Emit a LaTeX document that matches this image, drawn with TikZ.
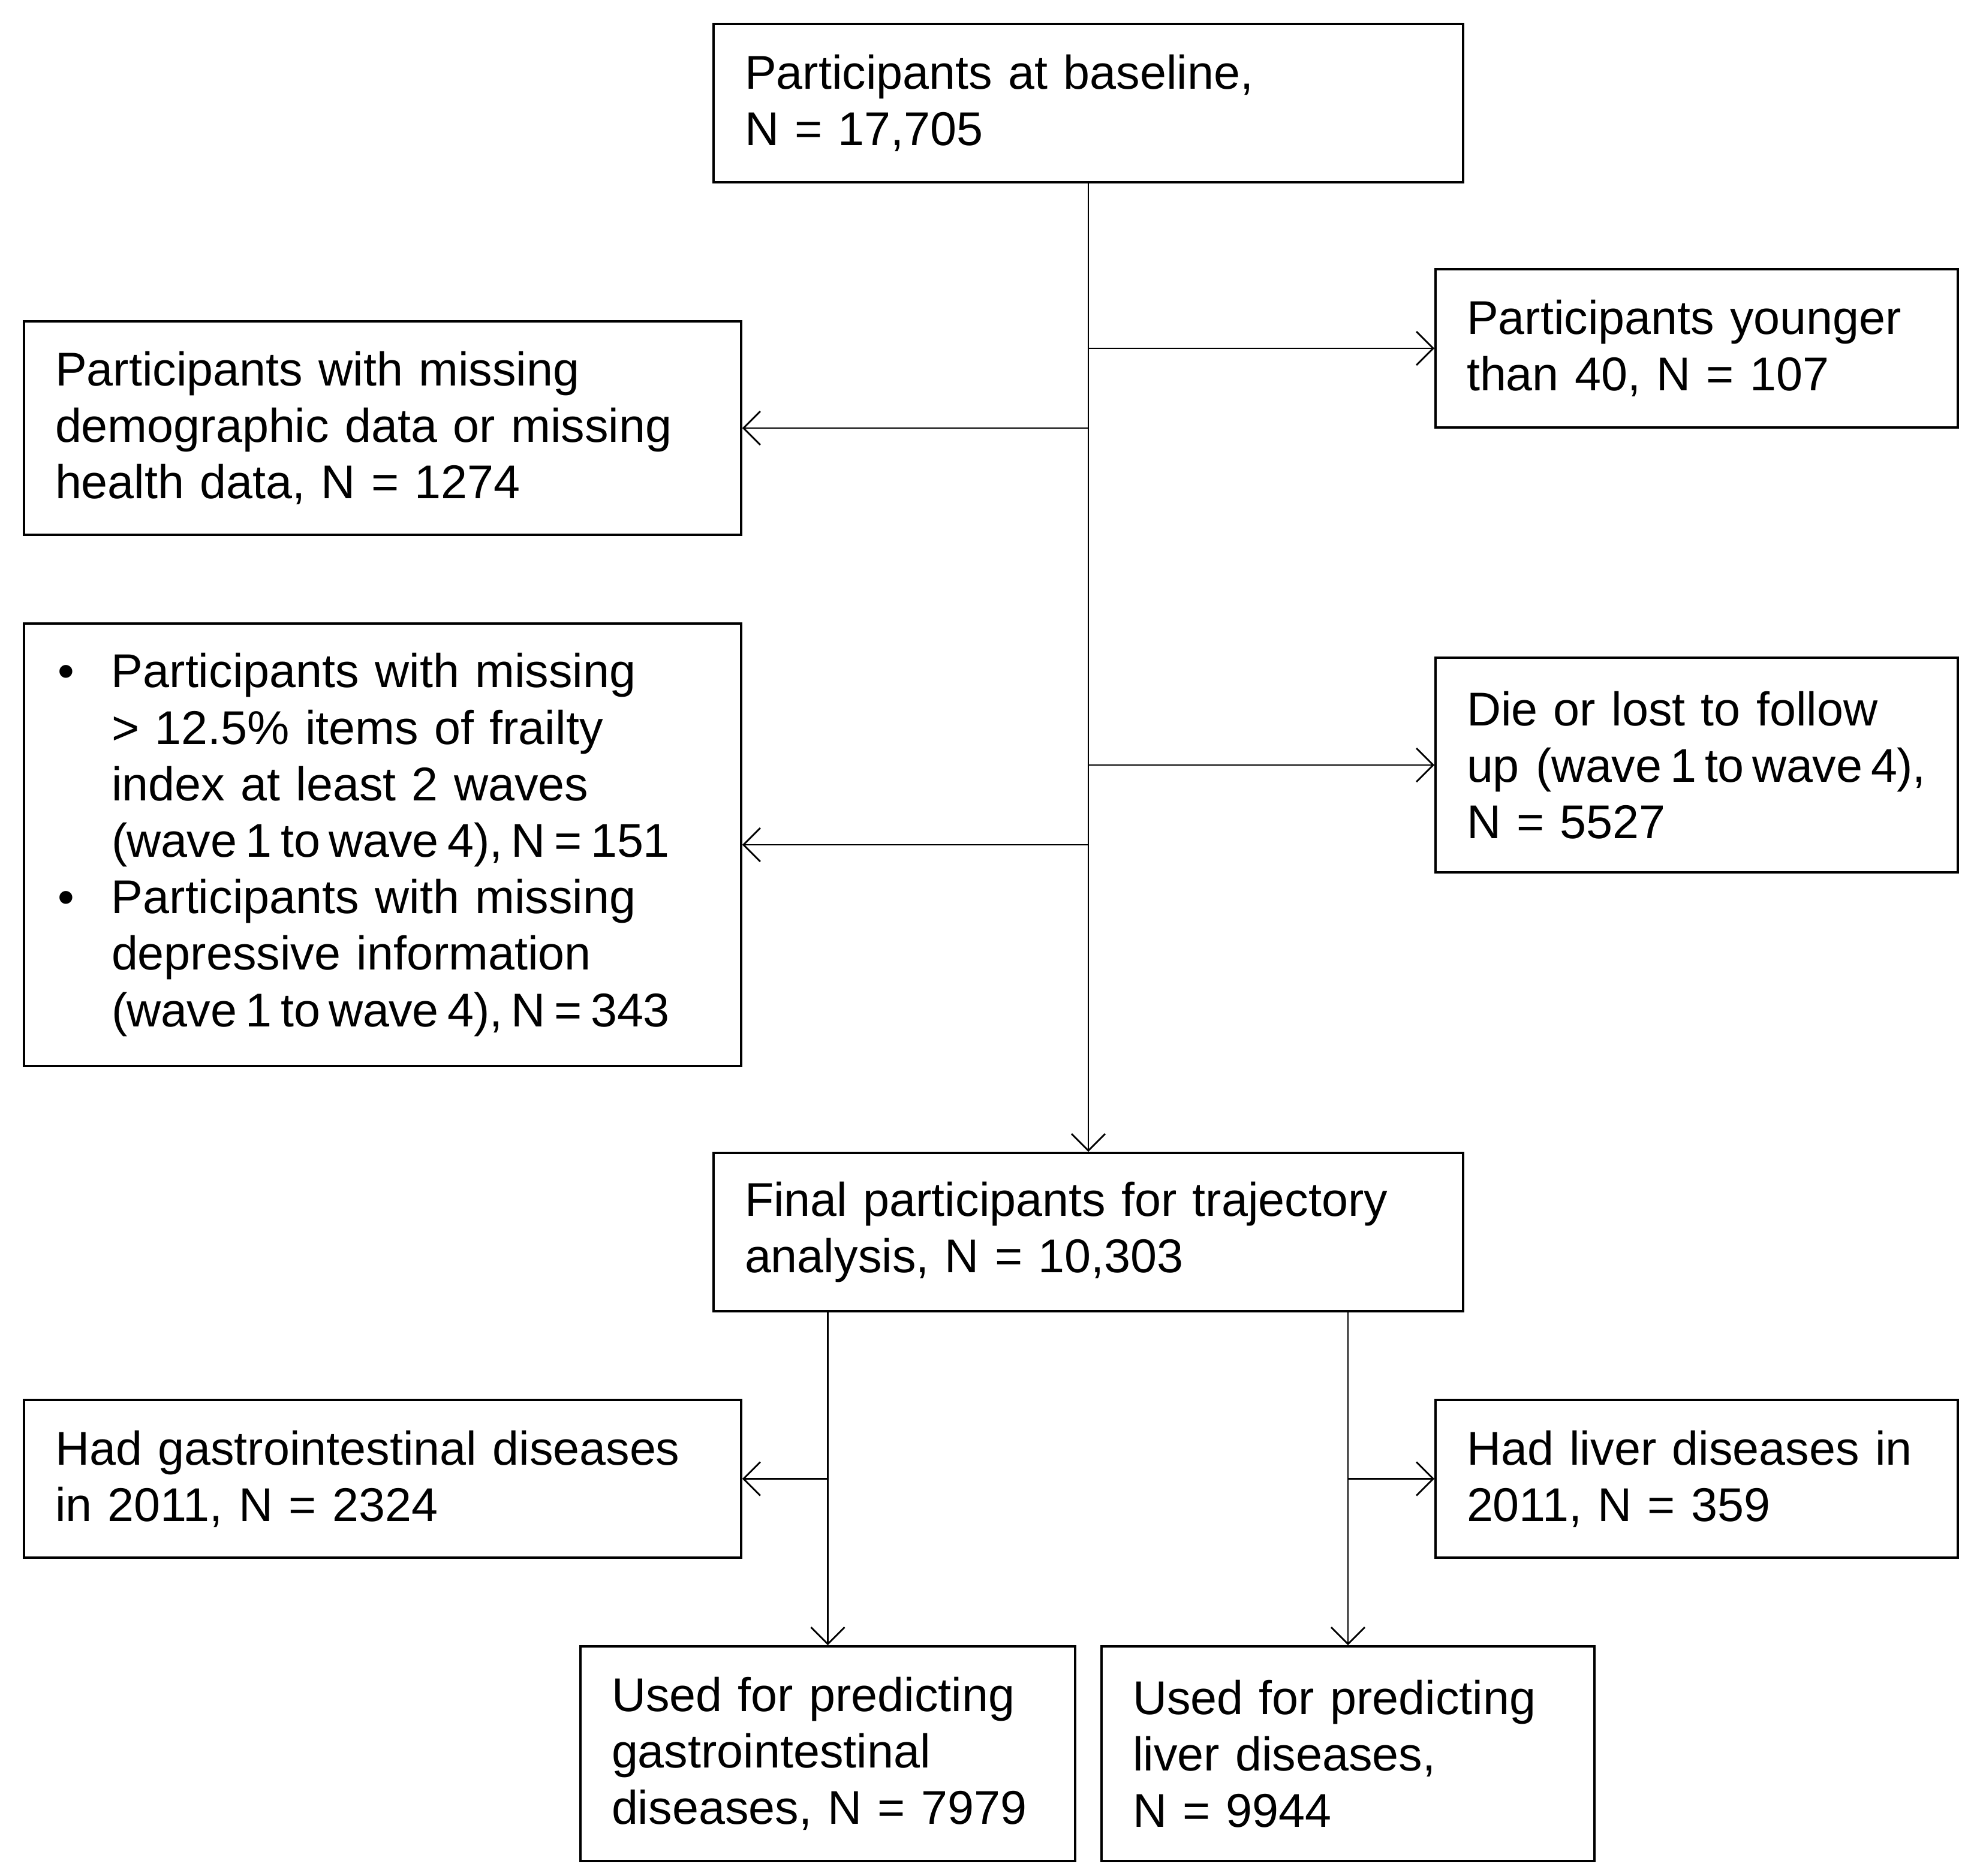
\documentclass[tikz,border=0pt]{standalone}
\usepackage{fontspec}
\setmainfont{Liberation Sans}[WordSpace=0.75]
\usetikzlibrary{arrows.meta}
\tikzset{
	box/.style={draw, line width=1.1pt, rectangle, align=left, inner xsep=0.52cm, inner ysep=0pt,
		font=\fontsize{22.5}{26.8}\selectfont},
	arr/.style={line width=0.8pt, -{Straight Barb[length=0.28cm,width=0.56cm]}}
}
\newcommand{\bulletpar}[1]{\hangindent=0.94cm\hangafter=1\noindent\makebox[0.94cm][l]{\hspace{0.05cm}\textbullet}#1\par}
\newcommand{\tightline}[1]{\mbox{\addfontfeature{LetterSpace=-0.6}\spaceskip=4.2pt #1}}
\begin{document}
\begin{tikzpicture}
	\useasboundingbox (0,0) rectangle (33.07,-31.28);
	\node[box, text width=11.46cm, minimum height=2.64cm] (top) at (18.15,-1.72) {Participants at baseline,\\N = 17,705};
	\node[box, text width=7.67cm, minimum height=2.64cm] (r1) at (28.295,-5.81) {Participants younger\\than 40, N = 107};
	\node[box, text width=10.92cm, minimum height=3.56cm] (l1) at (6.38,-7.14) {Participants with missing\\demographic data or missing\\health data, N = 1274};
	\node[box, text width=10.92cm, minimum height=7.38cm] (l2) at (6.38,-14.09) {%
		\bulletpar{Participants with missing\break > 12.5\% items of frailty\break index at least 2 waves\break \tightline{(wave 1 to wave 4), N = 151}}%
		\bulletpar{Participants with missing\break depressive information\break \tightline{(wave 1 to wave 4), N = 343}}};
	\node[box, text width=7.67cm, minimum height=3.58cm] (r2) at (28.295,-12.76) {Die or lost to follow\\\mbox{\addfontfeature{LetterSpace=-0.5}\spaceskip=4pt up\hspace{8pt}(wave 1 to wave 4),}\\N = 5527};
	\node[box, text width=11.46cm, minimum height=2.64cm] (final) at (18.15,-20.55) {Final participants for trajectory\\analysis, N = 10,303};
	\node[box, text width=10.92cm, minimum height=2.63cm] (l3) at (6.38,-24.665) {Had gastrointestinal diseases\\in 2011, N = 2324};
	\node[box, text width=7.67cm, minimum height=2.63cm] (r3) at (28.295,-24.665) {Had liver diseases in\\2011, N = 359};
	\node[box, text width=7.21cm, minimum height=3.58cm] (bl) at (13.805,-29.25) {Used for predicting\\gastrointestinal\\diseases, N = 7979};
	\node[box, text width=7.18cm, minimum height=3.58cm] (br) at (22.48,-29.25) {Used for predicting\\liver diseases,\\N = 9944};
	% main flow
	\draw[arr] (top.south) -- (final.north);
	\draw[arr] (top.south |- r1.west) -- (r1.west);
	\draw[arr] (top.south |- l1.east) -- (l1.east);
	\draw[arr] (top.south |- r2.west) -- (r2.west);
	\draw[arr] (top.south |- l2.east) -- (l2.east);
	% branches
	\draw[arr] (final.south -| bl.north) -- (bl.north);
	\draw[arr] (bl.north |- l3.east) -- (l3.east);
	\draw[arr] (final.south -| br.north) -- (br.north);
	\draw[arr] (br.north |- r3.west) -- (r3.west);
\end{tikzpicture}
\end{document}
